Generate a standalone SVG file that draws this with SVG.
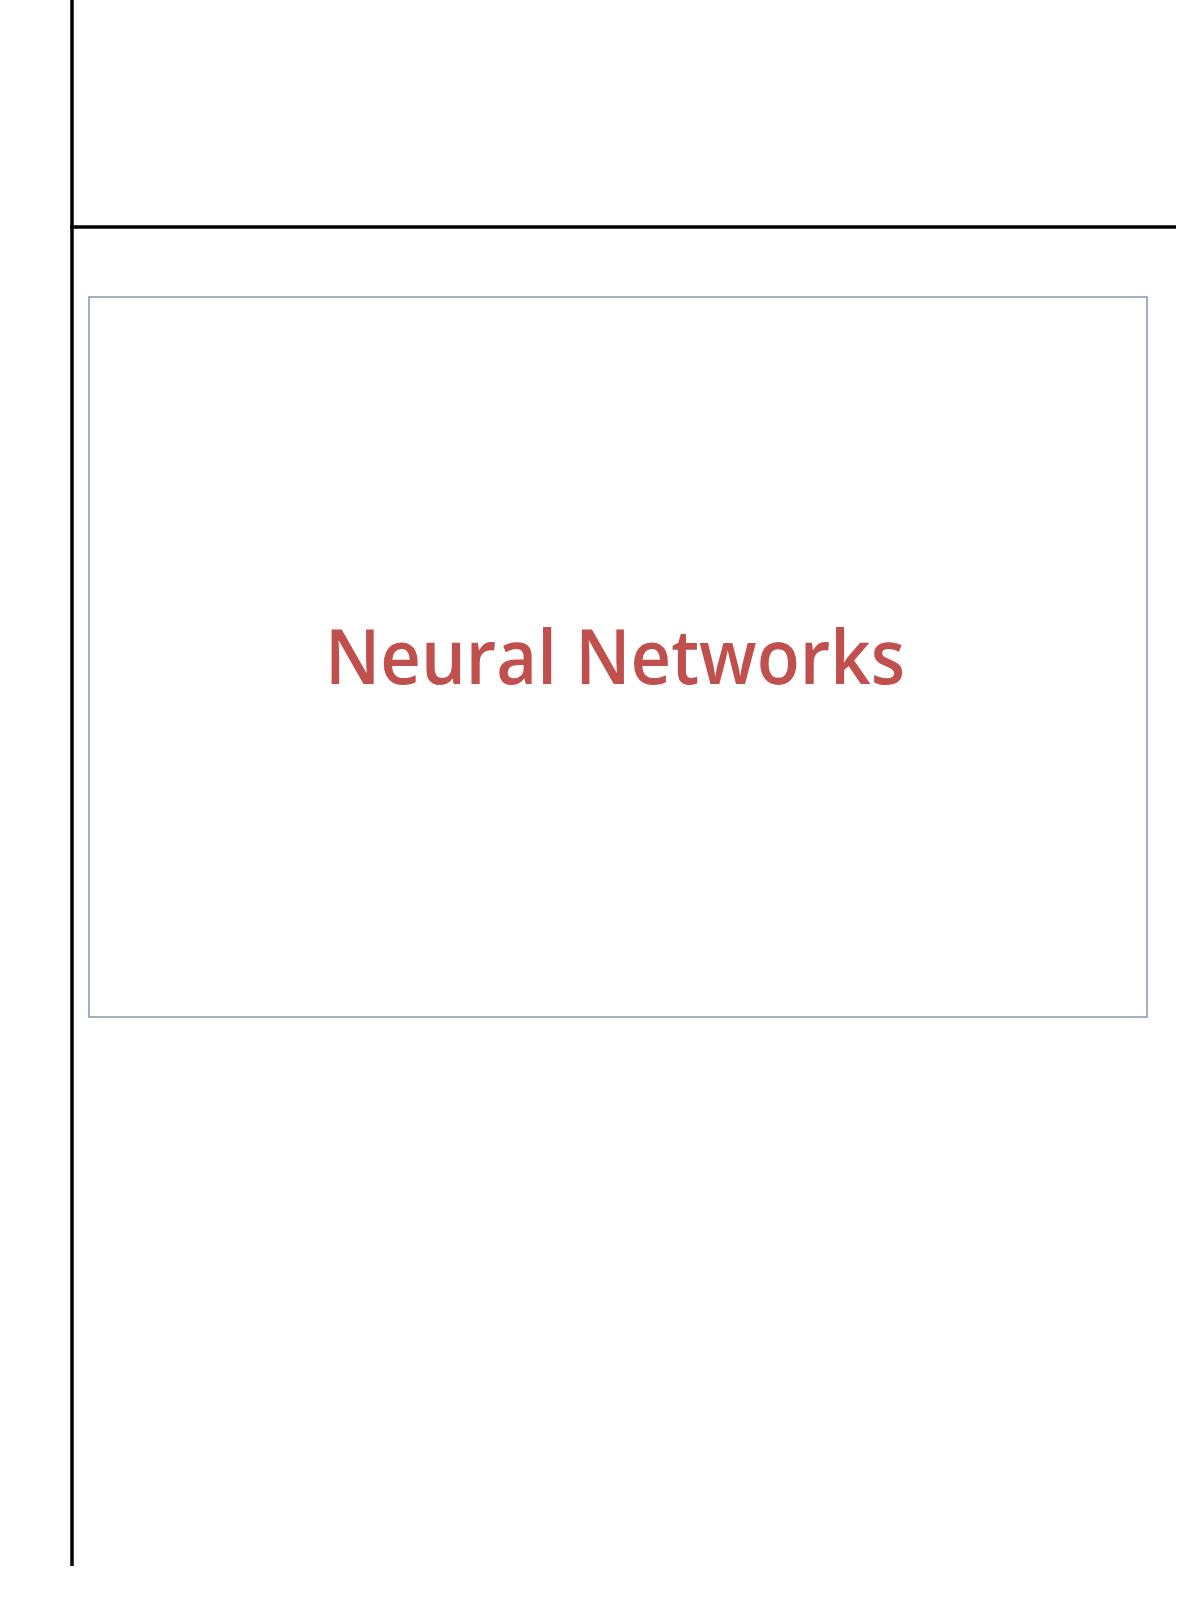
<svg xmlns="http://www.w3.org/2000/svg" width="1200" height="1600" viewBox="0 0 1200 1600">
<style>
.ax{stroke:#000;stroke-width:3.5;fill:none}
.box{fill:#fff;stroke:#8496b0;stroke-width:1.5}
.t{font-family:"Open Sans","Liberation Sans",sans-serif;font-size:76px;font-weight:600;fill:#c0504d}
</style>
<rect width="1200" height="1600" fill="#fff"/>
<g id="connectors">
<line class="ax" x1="72" y1="0" x2="72" y2="1566"/>
<line class="ax" x1="70" y1="227" x2="1176" y2="227"/>
</g>
<g id="title">
<rect class="box" x="89" y="297" width="1058" height="720"/>
<text class="t" x="615" y="684" text-anchor="middle" textLength="580" lengthAdjust="spacingAndGlyphs">Neural Networks</text>
</g>
</svg>
